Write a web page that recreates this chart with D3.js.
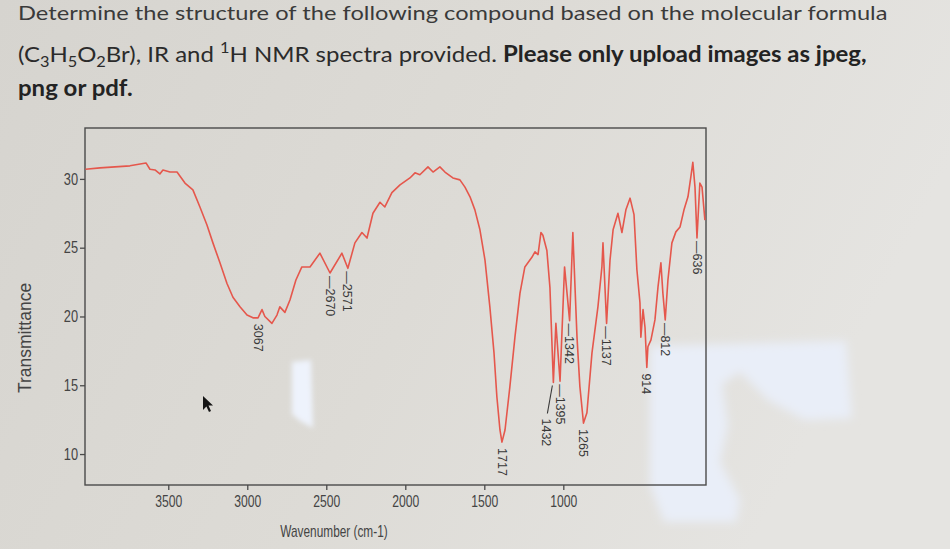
<!DOCTYPE html>
<html>
<head>
<meta charset="utf-8">
<script src="https://cdn.jsdelivr.net/npm/d3@7"></script>
<style>
  html, body { margin: 0; padding: 0; overflow: hidden; background: #d9d7d2; }
  svg { display: block; }
</style>
</head>
<body>
<div id="chart"></div>
<script>
// IR spectrum: wavenumber (cm-1) and transmittance
const wavenumbers = [
  4025, 3945, 3779, 3690, 3668, 3640, 3613, 3596, 3557, 3518,
  3474, 3430, 3391, 3352, 3319, 3280, 3241, 3208, 3169, 3130,
  3097, 3069, 3047, 3031, 2992, 2964, 2948, 2920, 2892, 2859,
  2826, 2781, 2726, 2670, 2604, 2571, 2532, 2493, 2465, 2432,
  2393, 2366, 2327, 2282, 2227, 2199, 2172, 2127, 2099, 2061,
  2033, 1989, 1950, 1922, 1894, 1867, 1839, 1811, 1784, 1761,
  1745, 1728, 1717, 1700, 1673, 1645, 1617, 1590, 1551, 1534,
  1517, 1501, 1490, 1468, 1451, 1432, 1418, 1395, 1370, 1342,
  1324, 1301, 1285, 1265, 1246, 1218, 1185, 1163, 1157, 1137,
  1118, 1101, 1074, 1052, 1030, 1007, 985, 969, 952, 947,
  935, 924, 914, 908, 891, 869, 852, 836, 825, 812,
  797, 775, 753, 730, 708, 686, 670, 659, 647, 636,
  620, 608, 592
];
const transmittance = [
  30.7, 30.8, 30.95, 31.16, 30.7, 30.65, 30.36, 30.65, 30.5, 30.5,
  29.7, 29.2, 27.96, 26.65, 25.35, 23.9, 22.4, 21.4, 20.7, 20.1,
  19.9, 19.9, 20.5, 20.0, 19.5, 20.1, 20.7, 20.3, 21.2, 22.65,
  23.6, 23.6, 24.6, 23.16, 24.6, 23.5, 25.35, 26.1, 25.7, 27.5,
  28.3, 27.96, 29.0, 29.56, 30.07, 30.44, 30.3, 30.87, 30.5, 30.87,
  30.5, 30.07, 29.93, 29.4, 28.7, 27.75, 26.3, 24.1, 20.7, 17.35,
  14.15, 11.75, 10.87, 11.75, 14.9, 18.5, 21.7, 23.6, 24.3, 24.7,
  24.5, 26.1, 25.9, 24.8, 22.1, 15.2, 19.5, 15.3, 23.6, 19.7,
  26.1, 18.5, 14.9, 12.25, 13.0, 17.35, 20.7, 23.6, 25.35, 19.5,
  24.1, 26.3, 27.5, 26.1, 27.75, 28.6, 27.4, 23.4, 21.0, 18.5,
  20.5, 19.2, 16.3, 17.8, 18.3, 19.75, 22.15, 23.9, 21.7, 19.75,
  22.65, 25.35, 26.15, 26.5, 27.75, 28.7, 30.15, 31.2, 29.4, 25.7,
  29.7, 29.4, 27.0
];

// peak annotations
const peakWavenumbers = [3067, 2670, 2571, 1717, 1432, 1395, 1342, 1265, 1137, 914, 812, 636];
const peakLabels = ["3067", "\u20142670", "\u20142571", "1717", "1432", "\u20141395", "\u20141342", "1265", "\u20141137", "914", "\u2014812", "\u2014636"];

// printed axes
const xTickValues = [3500, 3000, 2500, 2000, 1500, 1000];
const yTickValues = [10, 15, 20, 25, 30];

const width = 950, height = 549;
const frame = { left: 85, top: 128, right: 706, bottom: 485 };

const svg = d3.select("#chart").append("svg")
    .attr("width", width)
    .attr("height", height);

const defs = svg.append("defs");
const bg = defs.append("linearGradient").attr("id", "bg").attr("x1", 0).attr("x2", 1).attr("y1", 0).attr("y2", 0.3);
bg.append("stop").attr("offset", "0%").attr("stop-color", "#d6d4cf");
bg.append("stop").attr("offset", "55%").attr("stop-color", "#dddbd6");
bg.append("stop").attr("offset", "100%").attr("stop-color", "#e5e4e1");
defs.append("filter").attr("id", "soft").attr("x", "-20%").attr("y", "-20%").attr("width", "140%").attr("height", "140%")
    .append("feGaussianBlur").attr("stdDeviation", 2.5);
defs.append("filter").attr("id", "soft2").attr("x", "-20%").attr("y", "-20%").attr("width", "140%").attr("height", "140%")
    .append("feGaussianBlur").attr("stdDeviation", 5);

// photo background + screen glare
svg.append("rect").attr("width", width).attr("height", height).attr("fill", "url(#bg)");
svg.append("polygon")
    .attr("points", "650,346 846,341 852,418 805,420 768,400 740,372 722,384 728,425 720,462 740,500 736,522 664,522 650,485")
    .attr("fill", "#e9eef8").attr("filter", "url(#soft2)");
svg.append("polygon")
    .attr("points", "292,362 311,360 313,428 300,421 292,414")
    .attr("fill", "#eef3fc").attr("filter", "url(#soft)");

// question text
const qFont = "Lato, 'Open Sans', sans-serif";
const line1 = svg.append("text").attr("font-family", qFont).attr("font-size", 20).attr("fill", "#3a3a3a")
    .text("Determine the structure of the following compound based on the molecular formula");
const line2 = svg.append("text").attr("font-family", qFont).attr("font-size", 22).attr("fill", "#2b2b2b");
// [text, 0 normal / 1 subscript / 2 superscript]
[["(C", 0], ["3", 1], ["H", 0], ["5", 1], ["O", 0], ["2", 1], ["Br), IR and ", 0], ["1", 2], ["H NMR spectra provided. ", 0]]
  .forEach(([t, kind], i, arr) => {
    const ts = line2.append("tspan").text(t);
    const prevKind = i > 0 ? arr[i - 1][1] : 0;
    if (kind === 1) ts.attr("font-size", 15).attr("dy", 5);
    if (kind === 2) ts.attr("font-size", 15).attr("dy", -9);
    if (kind === 0 && prevKind === 1) ts.attr("dy", -5);
    if (kind === 0 && prevKind === 2) ts.attr("dy", 9);
  });
line2.append("tspan").attr("font-weight", "bold").attr("fill", "#232323").text("Please only upload images as jpeg,");
const line3 = svg.append("text").attr("font-family", qFont).attr("font-size", 22).attr("font-weight", "bold").attr("fill", "#232323")
    .text("png or pdf.");

const sx = 849 / line2.node().getBBox().width;
line1.attr("transform", `translate(18,20) scale(${870 / line1.node().getBBox().width},1)`);
line2.attr("transform", `translate(18,62) scale(${sx},1)`);
line3.attr("transform", `translate(18,96) scale(${sx},1)`);

// scales: the spectrum and its peak labels share one scale, the printed tick marks another
const x = d3.scaleLinear().domain([4028, 586]).range([frame.left, frame.right]);
const xPrinted = d3.scaleLinear().domain([4027, 97]).range([frame.left, frame.right]);
const y = d3.scaleLinear().domain([7.75, 33.7]).range([frame.bottom, frame.top]);

const axisColor = "#4a4a4a";
const tickFont = "'Liberation Sans', Arial, sans-serif";

// frame
svg.append("rect")
    .attr("x", frame.left).attr("y", frame.top)
    .attr("width", frame.right - frame.left).attr("height", frame.bottom - frame.top)
    .attr("fill", "none").attr("stroke", axisColor).attr("stroke-width", 1.4);

// X axis
const gx = svg.append("g")
    .attr("transform", `translate(0,${frame.bottom})`)
    .call(d3.axisBottom(xPrinted).tickValues(xTickValues).tickSize(5).tickPadding(6).tickFormat(d3.format("d")));
gx.select(".domain").remove();
gx.selectAll("line").attr("stroke", axisColor).attr("stroke-width", 1.3);
gx.selectAll("text").attr("font-family", tickFont).attr("font-size", 16).attr("fill", "#444")
    .attr("transform", "scale(0.76,1)");

// Y axis
const gy = svg.append("g")
    .attr("transform", `translate(${frame.left},0)`)
    .call(d3.axisLeft(y).tickValues(yTickValues).tickSize(5).tickPadding(2));
gy.select(".domain").remove();
gy.selectAll("line").attr("stroke", axisColor).attr("stroke-width", 1.3);
gy.selectAll("text").attr("font-family", tickFont).attr("font-size", 16).attr("fill", "#444")
    .attr("x", -7 / 0.8).attr("transform", "scale(0.8,1)");

// axis titles
svg.append("text")
    .attr("transform", "translate(334,537) scale(0.74,1)")
    .attr("text-anchor", "middle")
    .attr("font-family", tickFont).attr("font-size", 16).attr("fill", "#444")
    .text("Wavenumber (cm-1)");
svg.append("text")
    .attr("transform", "translate(25,338) rotate(-90)")
    .attr("text-anchor", "middle").attr("dy", "0.35em")
    .attr("font-family", tickFont).attr("font-size", 17.5).attr("fill", "#444")
    .text("Transmittance");

// spectrum
const spectrum = wavenumbers.map((w, i) => ({ w: w, t: transmittance[i] }));
svg.append("path")
    .datum(spectrum)
    .attr("fill", "none")
    .attr("stroke", "#e5574c")
    .attr("stroke-width", 1.6)
    .attr("stroke-linejoin", "round")
    .attr("d", d3.line().x(d => x(d.w)).y(d => y(d.t)));

// peak labels hang under each dip
const peaks = peakWavenumbers.map((w, i) => {
  const near = d3.least(spectrum, d => Math.abs(d.w - w));
  return { w: w, t: near.t, label: peakLabels[i] };
});
const labelG = svg.append("g")
    .attr("font-family", tickFont).attr("font-size", 12.5).attr("fill", "#383838");
peaks.forEach(p => {
  let px = x(p.w), py = y(p.t);
  if (p.w === 1432) {
    // this one is pushed down with a slanted leader
    svg.append("line").attr("x1", px - 1).attr("y1", py + 3).attr("x2", px - 6).attr("y2", py + 31)
        .attr("stroke", "#383838").attr("stroke-width", 1.1);
    px -= 7; py += 36;
  } else {
    py += p.label.startsWith("\u2014") ? 3 : 6;
  }
  labelG.append("text")
      .attr("transform", `translate(${px},${py}) rotate(90)`)
      .attr("dy", "0.35em")
      .text(p.label);
});

// mouse pointer in the photo
svg.append("path")
    .attr("transform", "translate(203,396)")
    .attr("d", "M0,0 L0,14 L3.4,10.6 L6,16 L8,15 L5.5,9.6 L10,9.6 Z")
    .attr("fill", "#151515");
</script>
</body>
</html>
